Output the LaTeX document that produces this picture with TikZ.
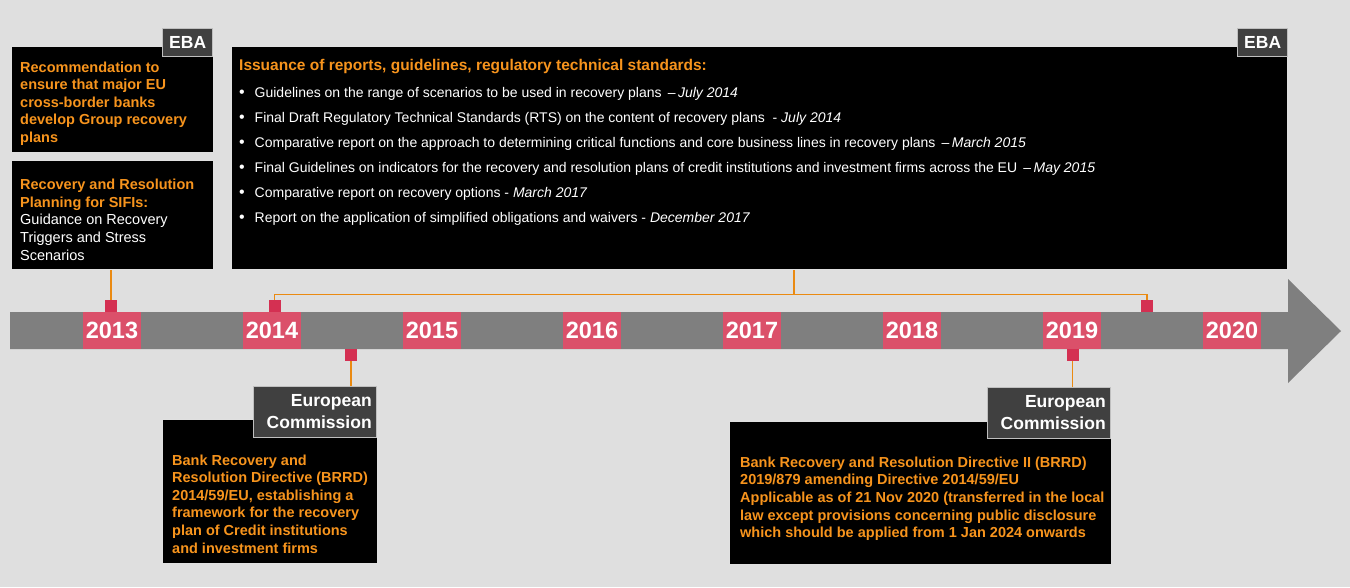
\documentclass[tikz,border=0pt]{standalone}
\usepackage{fontspec}
\setmainfont{Liberation Sans}
\definecolor{bgGrey}{RGB}{223,223,223}
\definecolor{barGrey}{RGB}{127,127,127}
\definecolor{tagGrey}{RGB}{64,64,64}
\definecolor{yearPink}{RGB}{219,80,106}
\definecolor{markRed}{RGB}{212,48,82}
\definecolor{ebaOrange}{RGB}{247,148,29}
\definecolor{lineOrange}{RGB}{234,138,18}
\newcommand{\itembullet}{\makebox[15.5pt][l]{\fontsize{16}{16}\selectfont\textbullet}}
\tikzset{
	blackbox/.style={fill=black,draw=white!88!black,line width=0.8pt,anchor=north west,inner sep=0pt},
	tagbox/.style={fill=tagGrey,draw=white!75!black,line width=0.6pt,text=white,font=\fontsize{17.5}{21.6}\selectfont\bfseries},
	yearbox/.style={fill=yearPink,text=white,minimum width=58pt,minimum height=37pt,inner sep=0pt,font=\fontsize{23.5}{24}\selectfont\bfseries},
	marker/.style={fill=markRed,minimum size=12pt,inner sep=0pt},
	boldtxt/.style={text=ebaOrange,align=left,anchor=base west,inner sep=0pt,font=\fontsize{14.5}{17.6}\selectfont\bfseries},
	conn/.style={draw=lineOrange,line width=1.2pt}
}
\begin{document}
\begin{tikzpicture}[x=1pt,y=-1pt,line join=miter]
		\useasboundingbox (0,0) rectangle (1350,587);
		\fill[bgGrey] (0,0) rectangle (1350,587);
		% timeline arrow
		\fill[barGrey] (10,312)--(1288,312)--(1288,279)--(1341,331)--(1288,383)--(1288,349)--(10,349)--cycle;
		\foreach \yr [count=\i from 0] in {2013,2014,2015,2016,2017,2018,2019,2020}
			\node[yearbox] (y\yr) at (112+160*\i,330.5) {\yr};
		% EBA boxes, left (text placed by its last baseline)
		\node[blackbox,minimum width=202pt,minimum height=106pt] (recA) at (11,46) {};
		\node[blackbox,minimum width=202pt,minimum height=109pt] (recB) at (11,160) {};
		\node[tagbox,minimum width=50pt,minimum height=28pt,inner sep=0pt,anchor=north east] (ebaA) at (213,28) {EBA};
		\node[boldtxt] at (20,142.5) {Recommendation to\\ensure that major EU\\cross-border banks\\develop Group recovery\\plans};
		\node[boldtxt] at (20,260) {Recovery and Resolution\\Planning for SIFIs:\\\textcolor{white}{\mdseries Guidance on Recovery}\\\textcolor{white}{\mdseries Triggers and Stress}\\\textcolor{white}{\mdseries Scenarios}};
		% EBA box, reports and guidelines
		\node[blackbox,minimum width=1056pt,minimum height=223pt] (rep) at (231,46) {};
		\node[tagbox,minimum width=50pt,minimum height=28pt,inner sep=0pt,anchor=north east] (ebaB) at (1288,28) {EBA};
		\node[boldtxt,font=\fontsize{15.5}{17}\selectfont\bfseries] at (239,70.5) {Issuance of reports, guidelines, regulatory technical standards:};
		\node[text=white,align=left,anchor=base west,inner sep=0pt,font=\fontsize{14}{25}\selectfont] at (239,222.7) {%
			\itembullet Guidelines on the range of scenarios to be used in recovery plans \,\textendash\,\textit{July 2014}\\
			\itembullet Final Draft Regulatory Technical Standards (RTS) on the content of recovery plans \ - \textit{July 2014}\\
			\itembullet Comparative report on the approach to determining critical functions and core business lines in recovery plans \,\textendash\,\textit{March 2015}\\
			\itembullet Final Guidelines on indicators for the recovery and resolution plans of credit institutions and investment firms across the EU \,\textendash\,\textit{May 2015}\\
			\itembullet Comparative report on recovery options - \textit{March 2017}\\
			\itembullet Report on the application of simplified obligations and waivers - \textit{December 2017}};
		% European Commission boxes
		\node[blackbox,minimum width=215pt,minimum height=144pt] (brrd) at (162,419) {};
		\node[tagbox,minimum width=123pt,minimum height=51pt,text width=113pt,inner xsep=5pt,align=right,anchor=north east] (ecA) at (377,386) {European\\Commission};
		\node[boldtxt] at (172,553) {Bank Recovery and\\Resolution Directive (BRRD)\\2014/59/EU, establishing a\\framework for the recovery\\plan of Credit institutions\\and investment firms};
		\node[blackbox,minimum width=382pt,minimum height=143pt] (brrdII) at (729,421) {};
		\node[tagbox,minimum width=123pt,minimum height=51pt,text width=113pt,inner xsep=5pt,align=right,anchor=north east] (ecB) at (1111,387) {European\\Commission};
		\node[boldtxt] at (740,537.7) {Bank Recovery and Resolution Directive II (BRRD)\\2019/879 amending Directive 2014/59/EU\\Applicable as of 21 Nov 2020 (transferred in the local\\law except provisions concerning public disclosure\\which should be applied from 1 Jan 2024 onwards};
		% markers on the timeline
		\node[marker,anchor=south] (mRec) at (111,312) {};
		\node[marker,anchor=south] (mRTS) at (274.5,312) {};
		\node[marker,anchor=south] (mEnd) at (1147,312) {};
		\node[marker,anchor=north] (mBRRD) at (351,349) {};
		\node[marker,anchor=north] (mBRRDII) at (1072.5,349) {};
		% connectors
		\coordinate (split) at (794,294.5);
		\draw[conn] (mRec.north) -- (mRec.north |- recB.south);
		\draw[conn] (split |- rep.south) -- (split);
		\draw[conn] (mRTS.north) |- (split) -| (mEnd.north);
		\draw[conn] (mBRRD.south) -- (mBRRD.south |- ecA.north);
		\draw[conn] (mBRRDII.south) -- (mBRRDII.south |- ecB.north);
\end{tikzpicture}
\end{document}
